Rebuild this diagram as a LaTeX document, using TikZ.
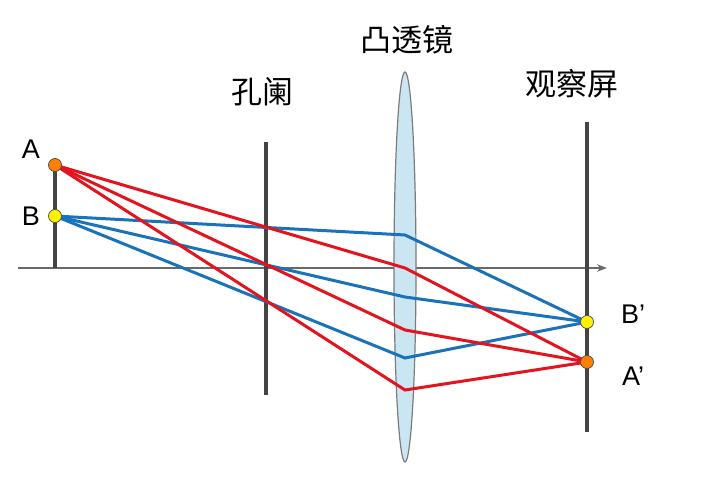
\documentclass[tikz,border=0pt]{standalone}
\usepackage{fontspec}
\setmainfont{Liberation Sans}
\newfontfamily\cjk{Noto Sans CJK SC}
\usetikzlibrary{arrows.meta,shapes.geometric}
\definecolor{rayred}{HTML}{E3141E}
\definecolor{rayblue}{HTML}{1A72B8}
\definecolor{bar}{HTML}{444444}
\definecolor{lensfill}{HTML}{C9E6F2}
\tikzset{ray/.style={line width=3pt},
 barline/.style={bar,line width=4pt},
 pt/.style={circle,draw=black!70,line width=0.7pt,minimum size=13pt,inner sep=0pt},
 lbl/.style={font=\fontsize{27}{29}\selectfont},
 title/.style={font=\cjk\fontsize{31}{33}\selectfont}}
\begin{document}
\begin{tikzpicture}[x=1pt,y=-1pt]
\useasboundingbox (0,0) rectangle (720,490);
\draw[bar!80,line width=1.5pt,-{Stealth[length=10pt]}] (18,268) -- (607,268);
\draw[barline] (55,165) -- (55,268);
\draw[barline] (266,142) -- (266,395);
\draw[barline] (587,122) -- (587,432);
\node[draw=bar!70,fill=lensfill,line width=1.2pt,ellipse,minimum width=22pt,minimum height=390pt,inner sep=0pt] (lens) at (405,267) {};
\coordinate (A) at (55,165);
\coordinate (B) at (55,216);
\coordinate (Ap) at (587,362);
\coordinate (Bp) at (587,322);
\coordinate (r1) at (405,268);
\coordinate (r2) at (405,330);
\coordinate (r3) at (405,390);
\coordinate (b1) at (405,235);
\coordinate (b2) at (405,297);
\coordinate (b3) at (405,358);
\foreach \c in {b1,b2,b3} \draw[ray,rayblue] (B) -- (\c) -- (Bp);
\foreach \c in {r1,r2,r3} \draw[ray,rayred] (A) -- (\c) -- (Ap);
\node[pt,fill=orange] (pA) at (A) {};
\node[pt,fill=yellow] (pB) at (B) {};
\node[pt,fill=orange] (pAp) at (Ap) {};
\node[pt,fill=yellow] (pBp) at (Bp) {};
\node[lbl] (lA) at (31,149) {A};
\node[lbl] (lB) at (31,216) {B};
\node[lbl] (lBp) at (633,314) {B’};
\node[lbl] (lAp) at (633,376) {A’};
\node[title] (t1) at (262,92) {孔阑};
\node[title] (t2) at (407,40) {凸透镜};
\node[title] (t3) at (572,84) {观察屏};
\end{tikzpicture}
\end{document}
